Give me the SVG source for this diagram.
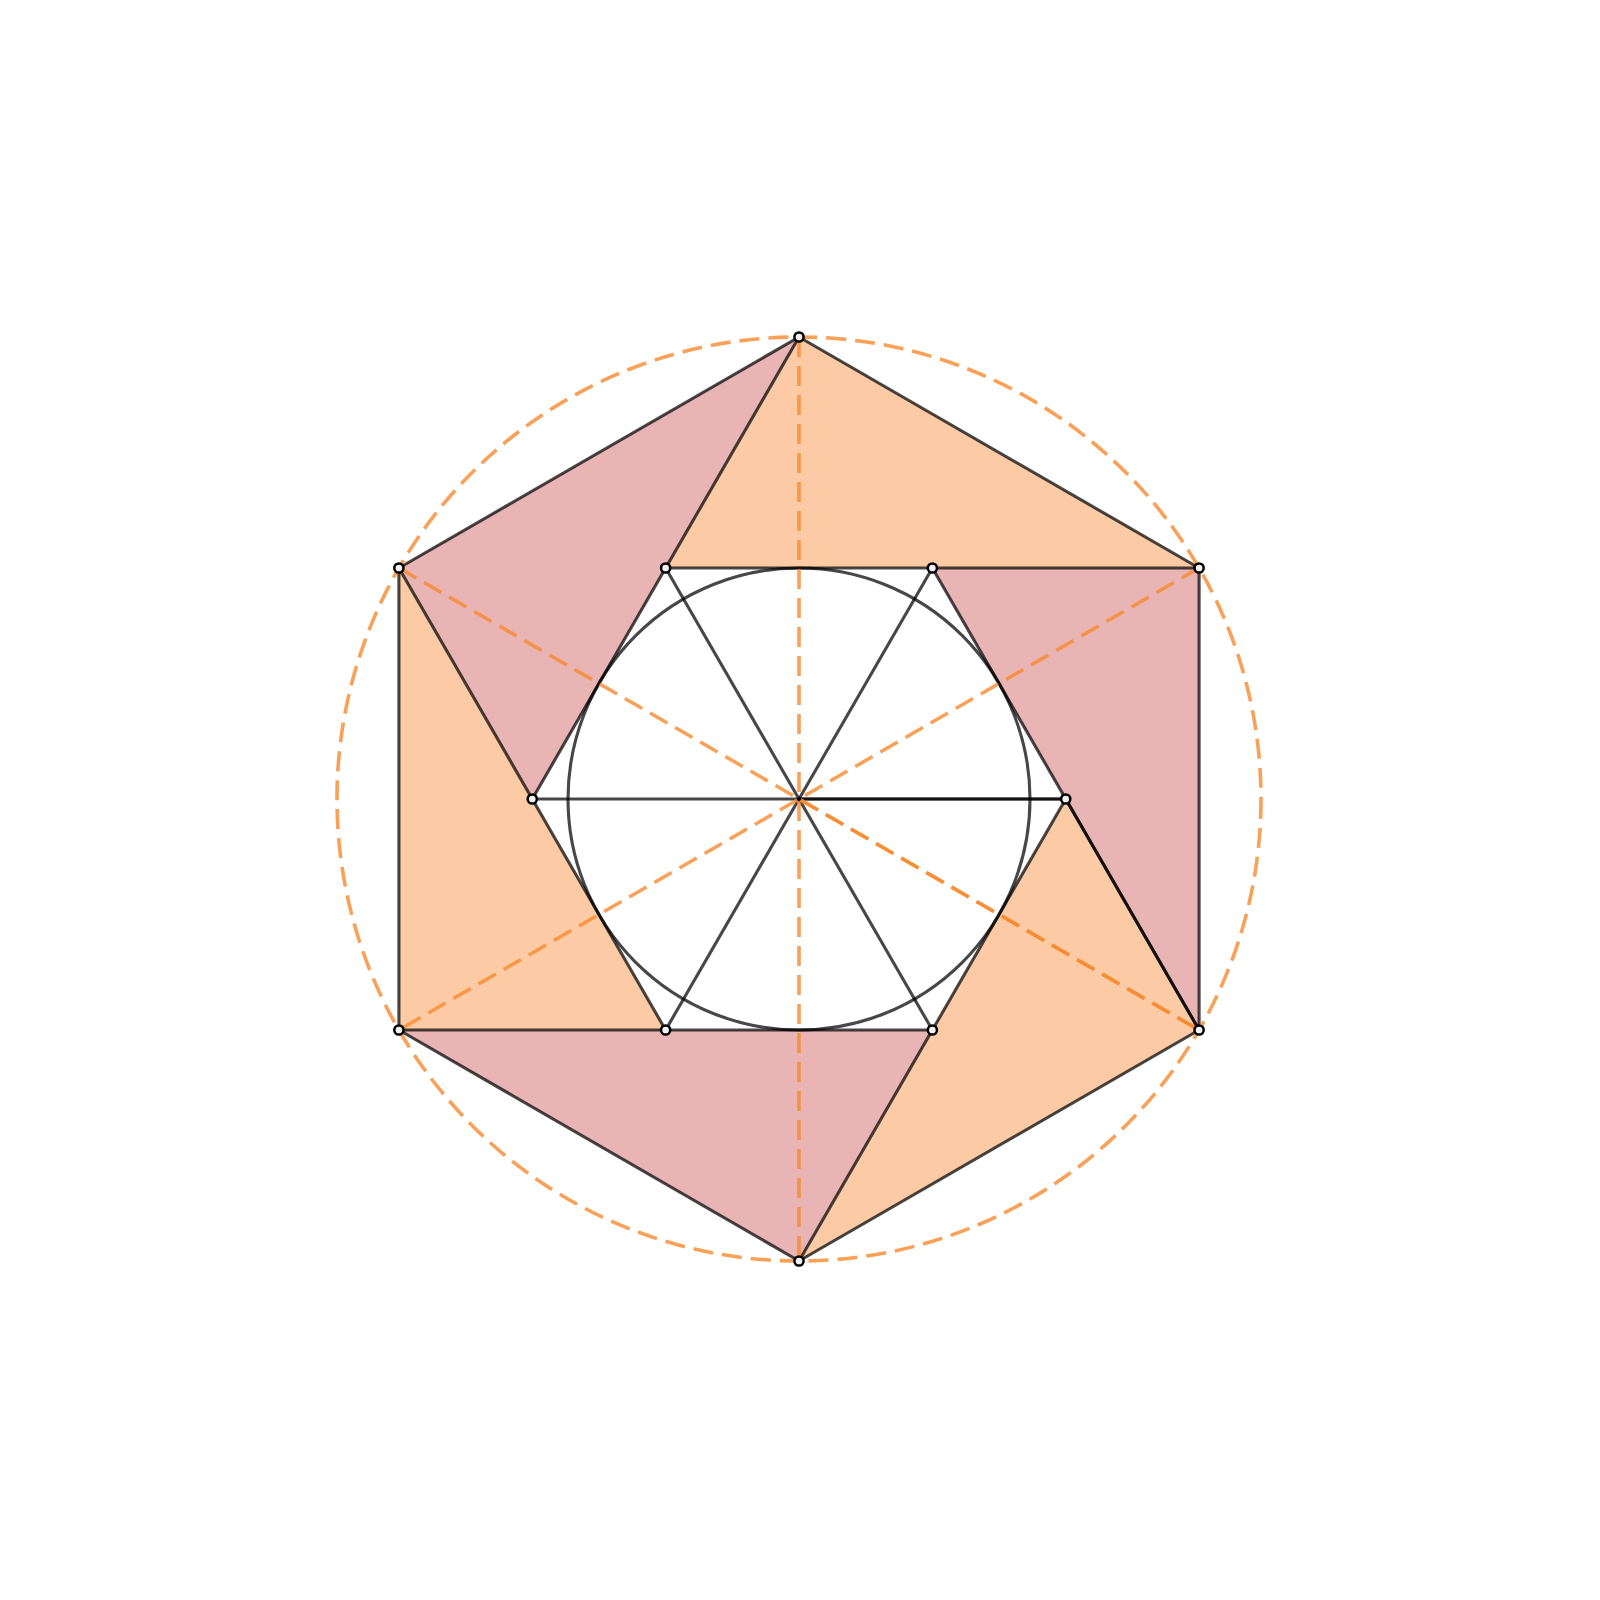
<svg xmlns="http://www.w3.org/2000/svg" width="1600" height="1600" viewBox="0 0 1600 1600">
<style>
.bg{fill:#ffffff}
.or{fill:#fccba5;stroke:none}
.pk{fill:#e9b4b4;stroke:none}
.ln{stroke:#000000;stroke-opacity:0.72;stroke-width:3.1;fill:none;stroke-linecap:round;stroke-linejoin:round}
.ds{stroke:#f7892e;stroke-opacity:0.8;stroke-width:3.6;fill:none;stroke-dasharray:20 9}
.pt{fill:#f2f2f2;stroke:#000000;stroke-width:2.5}
</style>
<rect class="bg" x="0" y="0" width="1600" height="1600"/>
<g id="fills">
<polygon class="or" points="799,337 1199.1,568 665.63,568"/>
<polygon class="pk" points="398.9,568 799,337 532.26,799"/>
<polygon class="or" points="398.9,568 665.63,1030 398.9,1030"/>
<polygon class="pk" points="398.9,1030 932.37,1030 799,1261"/>
<polygon class="or" points="799,1261 1065.74,799 1199.1,1030"/>
<polygon class="pk" points="932.37,568 1199.1,568 1199.1,1030"/>
</g>
<g id="connectors">
<polygon class="ln" points="799,337 1199.1,568 1199.1,1030 799,1261 398.9,1030 398.9,568"/>
<circle class="ln" cx="799" cy="799" r="231"/>
<line class="ln" x1="799" y1="337" x2="532.26" y2="799"/>
<line class="ln" x1="398.9" y1="568" x2="665.63" y2="1030"/>
<line class="ln" x1="398.9" y1="1030" x2="932.37" y2="1030"/>
<line class="ln" x1="799" y1="1261" x2="1065.74" y2="799"/>
<line class="ln" x1="1199.1" y1="1030" x2="932.37" y2="568"/>
<line class="ln" x1="1199.1" y1="568" x2="665.63" y2="568"/>
<line class="ln" x1="665.63" y1="568" x2="932.37" y2="1030"/>
<line class="ln" x1="932.37" y1="568" x2="665.63" y2="1030"/>
<line class="ln" x1="532.26" y1="799" x2="1065.74" y2="799"/>
<line class="ln" x1="799" y1="799" x2="1065.74" y2="799"/>
<line class="ln" x1="1065.74" y1="799" x2="1199.1" y2="1030"/>
</g>
<g id="dashed">
<circle class="ds" cx="799" cy="799" r="462"/>
<line class="ds" x1="799" y1="337" x2="799" y2="1261"/>
<line class="ds" x1="398.9" y1="568" x2="1199.1" y2="1030"/>
<line class="ds" x1="1199.1" y1="568" x2="398.9" y2="1030"/>
<line class="ds" x1="799" y1="799" x2="1199.1" y2="1030" stroke-dashoffset="27"/>
</g>
<g id="points">
<circle id="p1" class="pt" cx="799" cy="337" r="4.6"/>
<circle id="p2" class="pt" cx="1199.1" cy="568" r="4.6"/>
<circle id="p3" class="pt" cx="1199.1" cy="1030" r="4.6"/>
<circle id="p4" class="pt" cx="799" cy="1261" r="4.6"/>
<circle id="p5" class="pt" cx="398.9" cy="1030" r="4.6"/>
<circle id="p6" class="pt" cx="398.9" cy="568" r="4.6"/>
<circle id="p7" class="pt" cx="665.63" cy="568" r="4.6"/>
<circle id="p8" class="pt" cx="932.37" cy="568" r="4.6"/>
<circle id="p9" class="pt" cx="1065.74" cy="799" r="4.6"/>
<circle id="p10" class="pt" cx="932.37" cy="1030" r="4.6"/>
<circle id="p11" class="pt" cx="665.63" cy="1030" r="4.6"/>
<circle id="p12" class="pt" cx="532.26" cy="799" r="4.6"/>
</g>
</svg>
